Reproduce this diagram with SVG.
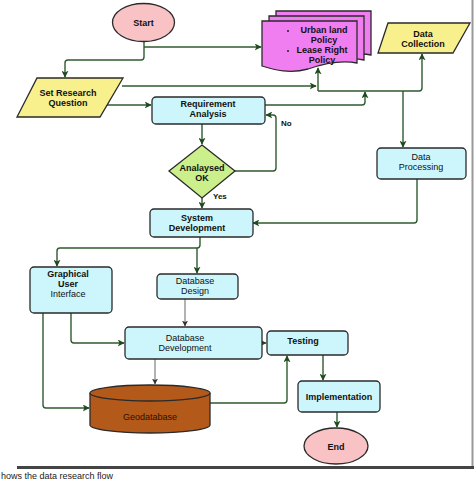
<svg xmlns="http://www.w3.org/2000/svg" width="474" height="481" viewBox="0 0 474 481">
<defs>
<marker id="ah" viewBox="0 0 10 10" refX="9" refY="5" markerWidth="7" markerHeight="7" markerUnits="userSpaceOnUse" orient="auto">
<path d="M0,0 L10,5 L0,10 L2.5,5 Z" fill="#1f4a1f"/>
</marker>
<marker id="ahg" viewBox="0 0 10 10" refX="9" refY="5" markerWidth="6" markerHeight="6" markerUnits="userSpaceOnUse" orient="auto">
<path d="M0,0 L10,5 L0,10 L2.5,5 Z" fill="#333"/>
</marker>
<style>
.c{fill:none;stroke:#2f5a2f;stroke-width:1.4;marker-end:url(#ah)}
.cg{fill:none;stroke:#666;stroke-width:1;marker-end:url(#ahg)}
.box{fill:#ccf6fb;stroke:#2a2a2a;stroke-width:1.3}
.t{font-family:"Liberation Sans",Arial,sans-serif;font-size:9px;font-weight:bold;fill:#111;text-anchor:middle}
.tn{font-family:"Liberation Sans",Arial,sans-serif;font-size:9px;fill:#111;text-anchor:middle}
.lbl{font-family:"Liberation Sans",Arial,sans-serif;font-size:8px;font-weight:bold;fill:#111}
</style>
</defs>
<rect width="474" height="481" fill="#fff"/>
<line x1="472.5" y1="0" x2="472.5" y2="467" stroke="#999" stroke-width="2"/>
<line x1="17" y1="467.5" x2="474" y2="467.5" stroke="#444" stroke-width="3"/>
<text x="1" y="479" style="font-family:'Liberation Sans',Arial,sans-serif;font-size:9px;fill:#222">hows the data research flow</text>

<g id="connectors">
<path class="c" d="M144,42 V57 Q144,60 141,60 H68 Q65,60 65,63 V77"/>
<path class="c" d="M144,47 H261"/>
<path class="c" d="M122,86 H316"/>
<path class="c" d="M104,105 H151"/>
<path class="c" d="M318,91 V68"/>
<path class="c" d="M318,91 H419 Q422,91 422,88 V54"/>
<path class="c" d="M403,91 V147"/>
<path class="c" d="M265,105 H362 Q365,105 365,102 V92"/>
<path class="c" d="M202,124 V144"/>
<path class="c" d="M235,171 H273 Q276,171 276,168 V118 Q276,115 273,115 H266"/>
<path class="c" d="M202,198 V208"/>
<path class="c" d="M417,179 V220 Q417,223 414,223 H253"/>
<path class="c" d="M200,237 V245 Q200,248 197,248 H60 Q57,248 57,251 V266"/>
<path class="c" d="M197,248 V273"/>
<path class="cg" d="M185,299 V326"/>
<path class="c" d="M71,313 V340 Q71,343 74,343 H124"/>
<path class="c" d="M43,313 V405 Q43,408 46,408 H89"/>
<path class="cg" d="M155,359 V384"/>
<path class="c" d="M262,343 H266"/>
<path class="c" d="M210,403 H284 Q287,403 287,400 V356"/>
<path class="c" d="M323,355 V380"/>
<path class="c" d="M337,412 V427"/>
</g>

<g id="start">
<ellipse cx="143.5" cy="22.5" rx="31" ry="19" fill="#f9c2c4" stroke="#2a2a2a" stroke-width="1.3"/>
<text class="t" x="143.5" y="26">Start</text>
</g>

<g id="policy">
<path d="M276,11 H371 V55 C362,53 355,54 348,56 L276,56 Z" fill="#f07ef0" stroke="#2a2a2a" stroke-width="1.3"/>
<path d="M269,16 H364 V60 C350,57 335,60 320,64 L269,62 Z" fill="#f07ef0" stroke="#2a2a2a" stroke-width="1.3"/>
<path d="M262,21 H357 V63 C342,60 325,63 308,69 C290,74 275,70 262,66 Z" fill="#f07ef0" stroke="#2a2a2a" stroke-width="1.3"/>
<circle cx="288" cy="31" r="1" fill="#222"/>
<circle cx="288" cy="51" r="1" fill="#222"/>
<text class="t" x="324" y="33">Urban land</text>
<text class="t" x="324" y="43">Policy</text>
<text class="t" x="322" y="53">Lease Right</text>
<text class="t" x="322" y="63">Policy</text>
</g>

<g id="data-collection">
<polygon points="388,23 470,23 453,53 378,53" fill="#f7f08c" stroke="#2a2a2a" stroke-width="1.3"/>
<text class="t" x="423" y="37">Data</text>
<text class="t" x="423" y="47">Collection</text>
</g>

<g id="set-research-question">
<polygon points="37,78 123,78 100,117 17,117" fill="#f7f08c" stroke="#2a2a2a" stroke-width="1.3"/>
<text class="t" x="68" y="96">Set Research</text>
<text class="t" x="68" y="106">Question</text>
</g>

<g id="requirement-analysis">
<rect class="box" x="152" y="97" width="113" height="27" rx="4"/>
<text class="t" x="208" y="107">Requirement</text>
<text class="t" x="208" y="117">Analysis</text>
</g>

<g id="analysed-ok">
<polygon points="202,145 235,171 202,198 169,171" fill="#cbef8a" stroke="#2a2a2a" stroke-width="1.3"/>
<text class="t" x="202" y="171">Analaysed</text>
<text class="t" x="202" y="181">OK</text>
<text class="lbl" x="213" y="199">Yes</text>
<text class="lbl" x="281" y="126">No</text>
</g>

<g id="data-processing">
<rect class="box" x="377" y="148" width="89" height="31" rx="4"/>
<text class="tn" x="421" y="160">Data</text>
<text class="tn" x="421" y="170">Processing</text>
</g>

<g id="system-development">
<rect class="box" x="150" y="209" width="103" height="28" rx="4"/>
<text class="t" x="197" y="221">System</text>
<text class="t" x="197" y="231">Development</text>
</g>

<g id="gui">
<rect class="box" x="30" y="267" width="82" height="46" rx="4"/>
<text class="t" x="68" y="277">Graphical</text>
<text class="t" x="68" y="287">User</text>
<text class="tn" x="68" y="297">Interface</text>
</g>

<g id="database-design">
<rect class="box" x="157" y="274" width="81" height="25" rx="4"/>
<text class="tn" x="195" y="284">Database</text>
<text class="tn" x="195" y="294">Design</text>
</g>

<g id="database-development">
<rect class="box" x="125" y="327" width="137" height="32" rx="4"/>
<text class="tn" x="185" y="341">Database</text>
<text class="tn" x="185" y="351">Development</text>
</g>

<g id="geodatabase">
<path d="M90,393 V425 A60,8 0 0 0 210,425 V393" fill="#b3591a" stroke="#2a2a2a" stroke-width="1.3"/>
<ellipse cx="150" cy="393" rx="60" ry="8" fill="#b3591a" stroke="#2a2a2a" stroke-width="1.3"/>
<text class="tn" x="150" y="420" style="fill:#2a1200">Geodatabase</text>
</g>

<g id="testing">
<rect class="box" x="267" y="331" width="81" height="24" rx="4"/>
<text class="t" x="303" y="344">Testing</text>
</g>

<g id="implementation">
<rect class="box" x="298" y="381" width="82" height="31" rx="4"/>
<text class="t" x="339" y="400">Implementation</text>
</g>

<g id="end">
<ellipse cx="336" cy="446" rx="32" ry="18" fill="#f9c2c4" stroke="#2a2a2a" stroke-width="1.3"/>
<text class="t" x="336" y="450">End</text>
</g>
</svg>
